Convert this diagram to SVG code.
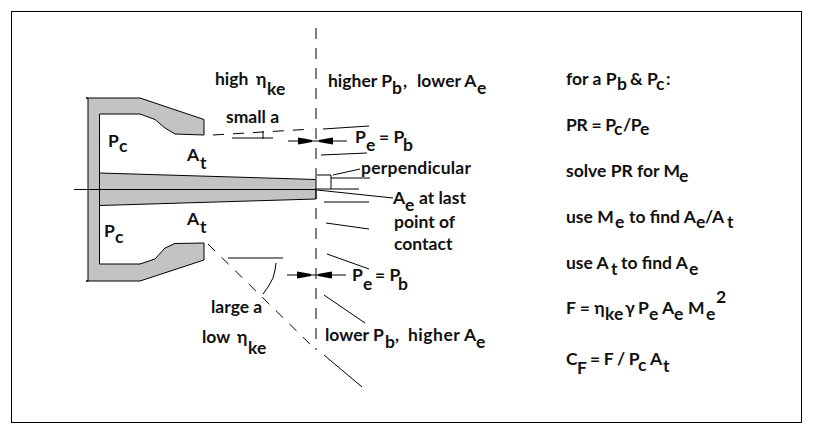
<svg xmlns="http://www.w3.org/2000/svg" width="813" height="437" viewBox="0 0 813 437">
<style>
text{font-family:"Lato","Carlito","Liberation Sans",sans-serif;font-weight:700;font-size:17.500px;fill:#111}
.l{stroke:#000;stroke-width:1;fill:none}
.d{stroke:#000;stroke-width:1;fill:none;stroke-dasharray:11 9}
.g{fill:#c3c3c3;stroke:#000;stroke-width:1}
</style>
<defs>
<g id="arrows">
<path class="l" d="M-28 0H31"/>
<path d="M-18-3.500L-12-2.500L-4-1V1L-12 2.500L-18 3.500Z M17-3.500L11-2.500L3-1V1L11 2.500L17 3.500Z" fill="#000"/>
</g>
</defs>
<rect width="813" height="437" fill="#fff"/>
<rect x="11.500" y="11.500" width="790" height="411" fill="none" stroke="#000"/>
<g id="nozzle">
<path class="g" d="M86 98H140L204 119.500V135L175 134L165 128L155 119.500L140 114H99.500V264H140L155 259L165 248L175 243.500L204 243V260L140 281H86H88V98Z"/>
<path class="g" d="M99.500 173L316 179.500V199L99.500 205.500Z"/>
<path class="l" d="M74 189.500H316"/>
</g>
<g id="connectors">
<path class="d" d="M316 28V350"/>
<path class="d" d="M213 135L313 129"/>
<path class="l" d="M323 129L369 126"/>
<path class="l" d="M232 138H273M263 131V139"/>
<use href="#arrows" x="316" y="141"/>
<path class="l" d="M321 155L367 153M317 175H331V189H317M333 175L360 169M331 178H370M331 189H359M317 190L393 198M324 202H369M326 223L369 229M327 254L369 269"/>
<use href="#arrows" x="315" y="275"/>
<path class="l" d="M324 295L365 323M324 355L362 387"/>
<path d="M208 244L315 349" stroke="#000" fill="none" stroke-dasharray="10 9"/>
<path class="l" d="M228 258H283M276 263L275 270L273 278L268 287L263 294"/>
</g>
<g id="labels">
<text x="215" y="85">high <tspan x="256">η</tspan><tspan x="267" y="95">ke</tspan></text>
<text x="226" y="123">small a</text>
<text x="108" y="147">P<tspan x="119" y="152">c</tspan></text>
<text x="187" y="161">A<tspan x="200" y="169">t</tspan></text>
<text x="187" y="225">A<tspan x="200" y="233">t</tspan></text>
<text x="104" y="237">P<tspan x="115" y="243">c</tspan></text>
<text x="211" y="313">large a</text>
<text x="202" y="343">low <tspan x="237">η</tspan><tspan x="248" y="354">ke</tspan></text>
<text x="328" y="87">higher P<tspan x="392" y="94">b</tspan><tspan x="403" y="87">,</tspan><tspan x="417">lower A</tspan><tspan x="477" y="94">e</tspan></text>
<text x="355" y="143">P<tspan x="366" y="151">e</tspan><tspan x="379" y="143">= P</tspan><tspan x="403" y="151">b</tspan></text>
<text x="361" y="174" textLength="110">perpendicular</text>
<text x="393" y="204">A<tspan x="405" y="211">e</tspan><tspan x="419" y="204">at last</tspan></text>
<text x="394" y="228">point of</text>
<text x="394" y="250">contact</text>
<text x="352" y="281">P<tspan x="363" y="290">e</tspan><tspan x="375" y="281">= P</tspan><tspan x="398" y="290">b</tspan></text>
<text x="325" y="341">lower P<tspan x="385" y="348">b</tspan><tspan x="395" y="341">,</tspan><tspan x="408" letter-spacing="0.500">higher A</tspan><tspan x="476" y="348">e</tspan></text>
<text x="566" y="85">for a P<tspan x="617" y="90">b</tspan><tspan x="630" y="85">&amp; P</tspan><tspan x="656" y="90">c</tspan><tspan x="666" y="85">:</tspan></text>
<text x="566" y="131" letter-spacing="-0.300">PR = P<tspan x="614" y="135">c</tspan><tspan x="623" y="131">/P</tspan><tspan x="640" y="135">e</tspan></text>
<text x="566" y="177">solve PR for M<tspan x="679" y="182">e</tspan></text>
<text x="566" y="223">use M<tspan x="615" y="228">e</tspan><tspan x="629" y="223">to find A</tspan><tspan x="696" y="228">e</tspan><tspan x="705" y="223">/A</tspan><tspan x="727" y="228">t</tspan></text>
<text x="566" y="269">use A<tspan x="611" y="275">t</tspan><tspan x="621" y="269">to find A</tspan><tspan x="689" y="275">e</tspan></text>
<text x="566" y="314">F = η<tspan x="605" y="320">ke</tspan><tspan x="625" y="314">γ</tspan><tspan x="638">P</tspan><tspan x="649" y="320">e</tspan><tspan x="662" y="314">A</tspan><tspan x="674" y="320">e</tspan><tspan x="688" y="314">M</tspan><tspan x="706" y="320">e</tspan><tspan x="716" y="303">2</tspan></text>
<text x="566" y="365">C<tspan x="577" y="374">F</tspan><tspan x="590" y="365" letter-spacing="-0.300">= F / P</tspan><tspan x="638" y="371">c</tspan><tspan x="650" y="365">A</tspan><tspan x="663" y="372">t</tspan></text>
</g>
</svg>
